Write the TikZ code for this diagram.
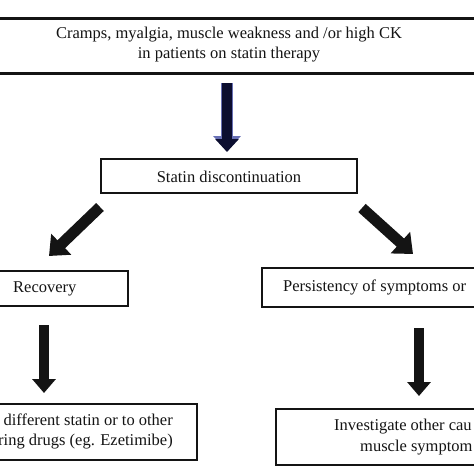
\documentclass[tikz,border=0pt]{standalone}
\usepackage{fontspec}
\setmainfont{Liberation Serif}
\usetikzlibrary{arrows.meta}
\definecolor{navyarrow}{RGB}{12,14,48}
\definecolor{arrowedge}{RGB}{40,50,150}
\definecolor{ink}{RGB}{20,20,20}
\tikzset{
  box/.style={draw=ink, line width=2pt, fill=white, inner sep=0pt},
  label/.style={inner sep=0pt, font=\fontsize{16.5}{20}\selectfont, text=ink},
  bigarrow/.style={line width=10pt, draw=ink, -{Triangle[length=14pt,width=23pt]}},
  diagarrow/.style={line width=11pt, draw=ink, -{Triangle[length=17pt,width=28pt]}},
}
\begin{document}
\begin{tikzpicture}[x=1pt,y=-1pt]
\useasboundingbox (0,0) rectangle (474,474);
\clip (0,0) rectangle (474,474);
% top box
\node[box, line width=3pt, minimum width=520pt, minimum height=55pt] (topbox) at (229,46) {};
\node[label, align=center] (toptext) at (229,45) {Cramps, myalgia, muscle weakness and /or high CK\\in patients on statin therapy};
% statin box
\node[box, minimum width=256pt, minimum height=34pt] (statin) at (229,176) {};
\node[label] (statintext) at (229,176.5) {Statin discontinuation};
% recovery box
\node[box, minimum width=150pt, minimum height=35pt] (recbox) at (53,288.5) {};
\node[label, anchor=west] (rectext) at (13,288.5) {Recovery};
% persistency box
\node[box, minimum width=240pt, minimum height=39pt] (perbox) at (382,287.5) {};
\node[label, anchor=west] (pertext) at (283,287.5) {Persistency of symptoms or};
% bottom-left box
\node[box, minimum width=220pt, minimum height=56pt] (switchbox) at (87,432) {};
\node[label, anchor=east, align=right] (switchtext) at (173,431.5) {different statin or to other\\ring drugs (eg. Ezetimibe)};
% bottom-right box
\node[box, minimum width=230pt, minimum height=56pt] (invbox) at (391,437) {};
\node[label, anchor=west] (invtext1) at (334,427) {Investigate other cau};
\node[label, anchor=west] (invtext2) at (360,448) {muscle symptom};
% arrow end points
\coordinate (a1s) at (227,83);
\coordinate (a1e) at (227,151);
\coordinate (a2s) at (100,207);
\coordinate (a2e) at (49,256);
\coordinate (a3s) at (362,208);
\coordinate (a3e) at (413,254);
\coordinate (a4s) at (44,325);
\coordinate (a4e) at (44,393);
\coordinate (a5s) at (419,328);
\coordinate (a5e) at (419,396);
% arrows
\draw[line width=12pt, draw=arrowedge!70, -{Triangle[length=15pt,width=27pt]}] (a1s) -- (a1e);
\draw[line width=10pt, draw=navyarrow, -{Triangle[length=13pt,width=23pt]}] (a1s) -- ([yshift=-1pt]a1e);
\draw[diagarrow] (a2s) -- (a2e);
\draw[diagarrow] (a3s) -- (a3e);
\draw[bigarrow] (a4s) -- (a4e);
\draw[bigarrow] (a5s) -- (a5e);
\end{tikzpicture}
\end{document}
